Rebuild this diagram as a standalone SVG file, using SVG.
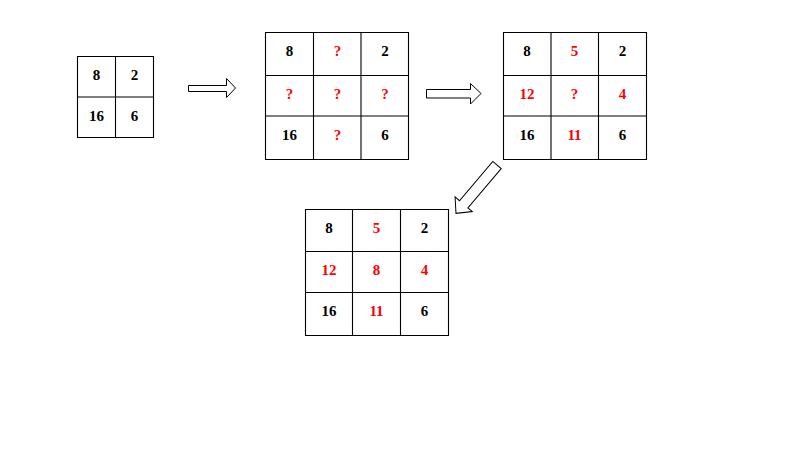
<svg xmlns="http://www.w3.org/2000/svg" width="800" height="450" viewBox="0 0 800 450">
<style>
.g{fill:none;stroke:#000;stroke-width:1.1}
.t{font-family:"Liberation Serif","Times New Roman",serif;font-weight:bold;font-size:15px;text-anchor:middle}
.k{fill:#000}
.r{fill:#ff0000}
.a{fill:#fff;stroke:#000;stroke-width:1;stroke-linejoin:miter}
</style>
<rect width="800" height="450" fill="#fff"/>
<g id="grid1">
<path class="g" d="M77.5,56.5H153.5V137.5H77.5Z M115.5,56.5V137.5 M77.5,97H153.5"/>
<text class="t k" x="96.5" y="80">8</text>
<text class="t k" x="134.5" y="80">2</text>
<text class="t k" x="96.5" y="120.5">16</text>
<text class="t k" x="134.5" y="120.5">6</text>
</g>
<g id="grid2">
<path class="g" d="M265.5,32.5H408.5V159.5H265.5Z M313.5,32.5V159.5 M361,32.5V159.5 M265.5,75.5H408.5 M265.5,116H408.5"/>
<text class="t k" x="289.5" y="56">8</text>
<text class="t r" x="337.5" y="56">?</text>
<text class="t k" x="385" y="56">2</text>
<text class="t r" x="289.5" y="99">?</text>
<text class="t r" x="337.5" y="99">?</text>
<text class="t r" x="385" y="99">?</text>
<text class="t k" x="289.5" y="140">16</text>
<text class="t r" x="337.5" y="140">?</text>
<text class="t k" x="385" y="140">6</text>
</g>
<g id="grid3">
<path class="g" d="M503.5,32.5H646.5V159.5H503.5Z M551,32.5V159.5 M598.5,32.5V159.5 M503.5,75.5H646.5 M503.5,116H646.5"/>
<text class="t k" x="527" y="56">8</text>
<text class="t r" x="574.5" y="56">5</text>
<text class="t k" x="622.5" y="56">2</text>
<text class="t r" x="527" y="99">12</text>
<text class="t r" x="574.5" y="99">?</text>
<text class="t r" x="622.5" y="99">4</text>
<text class="t k" x="527" y="140">16</text>
<text class="t r" x="574.5" y="140">11</text>
<text class="t k" x="622.5" y="140">6</text>
</g>
<g id="grid4">
<path class="g" d="M305.5,209.5H448.5V335.5H305.5Z M352.5,209.5V335.5 M400.5,209.5V335.5 M305.5,251.5H448.5 M305.5,292.5H448.5"/>
<text class="t k" x="329" y="233">8</text>
<text class="t r" x="376.5" y="233">5</text>
<text class="t k" x="424.5" y="233">2</text>
<text class="t r" x="329" y="275">12</text>
<text class="t r" x="376.5" y="275">8</text>
<text class="t r" x="424.5" y="275">4</text>
<text class="t k" x="329" y="316">16</text>
<text class="t r" x="376.5" y="316">11</text>
<text class="t k" x="424.5" y="316">6</text>
</g>
<g id="connectors">
<path class="a" d="M188.5,85.5H226.5V78.5L235.5,88L226.5,97.5V91.5H188.5Z"/>
<path class="a" d="M426.5,89.5H470.5V83.5L481,93.5L470.5,104V98H426.5Z"/>
<path class="a" transform="translate(497,165) rotate(130.3)" d="M0,-5.5H51.5V-11.3L63.4,0L51.5,11.3V5.5H0Z"/>
</g>
</svg>
